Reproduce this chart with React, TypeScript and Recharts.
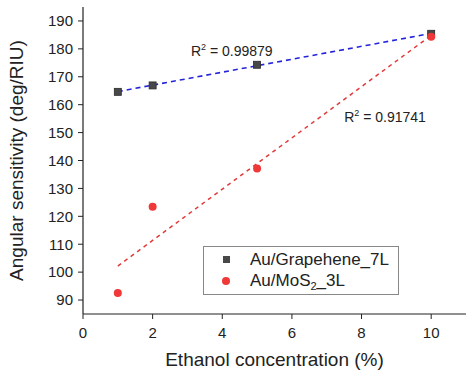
import {
  ScatterChart,
  Scatter,
  XAxis,
  YAxis,
  ReferenceDot,
} from 'recharts'

// concentrations (%)
const concentrations = [1, 2, 5, 10]
// angular sensitivity (deg/RIU)
const grapheneValues = [164.6, 166.9, 174.3, 185.4]
const mos2Values = [92.5, 123.4, 137.1, 184.3]

const xMajorTicks = [0, 2, 4, 6, 8, 10]
const xMinorTicks = [0, 1, 2, 3, 4, 5, 6, 7, 8, 9, 10, 11]
const yMajorTicks = [90, 100, 110, 120, 130, 140, 150, 160, 170, 180, 190]
const yMinorTicks = [85, 90, 95, 100, 105, 110, 115, 120, 125, 130, 135, 140, 145, 150, 155, 160, 165, 170, 175, 180, 185, 190, 195]

// R² labels, anchored in data units
const r2Labels = [
  { x: 3.1, y: 177.4, value: '0.99879' },
  { x: 7.5, y: 153.7, value: '0.91741' },
]

const grapheneData = concentrations.map((x, i) => ({ x, y: grapheneValues[i] }))
const mos2Data = concentrations.map((x, i) => ({ x, y: mos2Values[i] }))

const FONT = '"Liberation Sans", Arial, sans-serif'
const AXIS_COLOR = '#222'

const SquareMarker = (props: any) => {
  const { cx, cy } = props
  return <rect x={cx - 3.5} y={cy - 3.5} width={7} height={7} fill="#484848" stroke="#2a2a2a" strokeWidth={0.8} />
}

const CircleMarker = (props: any) => {
  const { cx, cy } = props
  return <circle cx={cx} cy={cy} r={4} fill="#f03838" />
}

const R2Label = (text: string) => (props: any) => {
  const { viewBox } = props
  const x = viewBox.x + (viewBox.width ?? 0) / 2
  const y = viewBox.y + (viewBox.height ?? 0) / 2
  return (
    <text x={x} y={y} fontFamily={FONT} fontSize={14} fill="#222">
      R<tspan fontSize={9} dy={-6}>2</tspan>
      <tspan dy={6}> = {text}</tspan>
    </text>
  )
}

const LegendBox = () => (
  <div
    style={{
      position: 'absolute',
      left: 203,
      top: 246,
      border: '1px solid #888',
      background: '#fff',
      width: 196,
      height: 49,
      boxSizing: 'border-box',
      fontFamily: FONT,
      fontSize: 17,
      color: '#222',
      paddingTop: 2,
    }}
  >
    <div style={{ display: 'flex', alignItems: 'center', height: 21 }}>
      <span style={{ width: 7, height: 7, background: '#484848', marginLeft: 19, marginRight: 20 }} />
      <span>Au/Grapehene_7L</span>
    </div>
    <div style={{ display: 'flex', alignItems: 'center', height: 21 }}>
      <span style={{ width: 8, height: 8, borderRadius: 4, background: '#f03838', marginLeft: 18, marginRight: 20 }} />
      <span>
        Au/MoS<sub style={{ fontSize: 11, lineHeight: 0 }}>2</sub>_3L
      </span>
    </div>
  </div>
)

export default function App() {
  return (
    <div style={{ position: 'absolute', left: 0, top: 0, width: 474, height: 376, background: '#fff' }}>
      <ScatterChart width={474} height={376} margin={{ top: 7, right: 8, bottom: 0, left: 0 }}>
        {/* minor tick axes, declared first so they sit on the plot edge */}
        <XAxis
          xAxisId="minor"
          type="number"
          dataKey="x"
          domain={[0, 11]}
          ticks={xMinorTicks}
          height={0}
          axisLine={false}
          tick={false}
          tickSize={3}
          tickLine={{ stroke: AXIS_COLOR }}
        />
        <YAxis
          yAxisId="minor"
          type="number"
          dataKey="y"
          domain={[85, 195]}
          ticks={yMinorTicks}
          width={0}
          axisLine={false}
          tick={false}
          tickSize={3}
          tickLine={{ stroke: AXIS_COLOR }}
        />
        <XAxis
          xAxisId="main"
          type="number"
          dataKey="x"
          domain={[0, 11]}
          ticks={xMajorTicks}
          height={62}
          tickSize={5}
          tickMargin={8}
          axisLine={{ stroke: AXIS_COLOR, strokeWidth: 1.2 }}
          tickLine={{ stroke: AXIS_COLOR }}
          tick={{ fill: '#222', fontSize: 15, fontFamily: FONT }}
          label={{
            value: 'Ethanol concentration (%)',
            position: 'insideBottom',
            offset: 10,
            fill: '#222',
            fontSize: 19,
            fontFamily: FONT,
          }}
        />
        <YAxis
          yAxisId="main"
          type="number"
          dataKey="y"
          domain={[85, 195]}
          ticks={yMajorTicks}
          width={83}
          tickSize={5}
          tickMargin={5}
          axisLine={{ stroke: AXIS_COLOR, strokeWidth: 1.2 }}
          tickLine={{ stroke: AXIS_COLOR }}
          tick={{ fill: '#222', fontSize: 15, fontFamily: FONT }}
          label={{
            value: 'Angular sensitivity (deg/RIU)',
            angle: -90,
            position: 'insideLeft',
            offset: 0,
            dx: 16,
            style: { textAnchor: 'middle' },
            fill: '#222',
            fontSize: 19,
            fontFamily: FONT,
          }}
        />
        <Scatter
          name="Au/Grapehene_7L"
          data={grapheneData}
          xAxisId="main"
          yAxisId="main"
          line={{ stroke: '#2424dc', strokeWidth: 1.6, strokeDasharray: '5 4' }}
          lineType="fitting"
          shape={SquareMarker}
          isAnimationActive={false}
        />
        <Scatter
          name="Au/MoS2_3L"
          data={mos2Data}
          xAxisId="main"
          yAxisId="main"
          line={{ stroke: '#e23a3a', strokeWidth: 1.5, strokeDasharray: '4 4' }}
          lineType="fitting"
          shape={CircleMarker}
          isAnimationActive={false}
        />
        {r2Labels.map((l) => (
          <ReferenceDot
            key={l.value}
            xAxisId="main"
            yAxisId="main"
            x={l.x}
            y={l.y}
            r={0}
            fill="none"
            stroke="none"
            label={R2Label(l.value)}
          />
        ))}
      </ScatterChart>
      <LegendBox />
    </div>
  )
}
